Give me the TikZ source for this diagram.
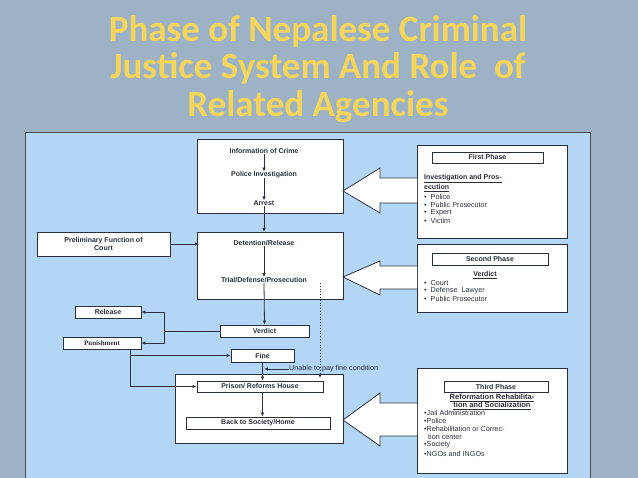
\documentclass[tikz,border=0pt]{standalone}
\usepackage{fontspec}
\setmainfont{Liberation Sans}
\newfontfamily\titlefont{Carlito}
\usetikzlibrary{arrows.meta}
\definecolor{slide}{HTML}{9DB2C4}
\definecolor{panel}{HTML}{B3D6F6}
\definecolor{ttl}{HTML}{F4D55C}
\definecolor{ink}{HTML}{2A2F3A}
\begin{document}
\begin{tikzpicture}[x=1pt,y=-1pt,
  box/.style={draw=ink,fill=white,line width=0.8pt},
  lbl/.style={font=\fontsize{7}{8}\selectfont\bfseries,text=ink,inner sep=0pt},
  itm/.style={font=\fontsize{7.2}{8}\selectfont,text=ink,inner sep=0pt,anchor=west},
  con/.style={draw=ink,line width=0.8pt,-{Latex[length=4pt,width=3.5pt]}},
  bigarrow/.style={draw=ink,fill=white,line width=0.8pt}]
\useasboundingbox (0,0) rectangle (638,478);
\fill[slide] (0,0) rectangle (638,478);
% title
\node[font=\fontsize{37}{37.5}\selectfont\titlefont\bfseries,text=ttl,align=center] (title) at (318,69)
 {Phase of Nepalese Criminal\\Justice System And Role \ of\\Related Agencies};
% panel
\draw[fill=panel,draw=gray!60!black,line width=1pt] (25,133) rectangle (590,480);
% left chain
\draw[box] (197,139) rectangle (343,213);
\node[lbl] (info) at (264,151) {Information of Crime};
\node[lbl] (police) at (264,175) {Police Investigation};
\node[lbl] (arrest) at (264,203) {Arrest};
\draw[box] (197,232) rectangle (343,299);
\node[lbl] (det) at (264,243) {Detention/Release};
\node[lbl] (trial) at (264,280) {Trial/Defense/Prosecution};
\node[box,lbl,minimum width=133pt,minimum height=24pt,align=center,inner sep=0pt] (prelim) at (103.5,244) {Preliminary Function of\\Court};
\node[box,lbl,minimum width=66pt,minimum height=12pt] (release) at (108,312) {Release};
\node[box,lbl,minimum width=89pt,minimum height=12pt] (verdict) at (264.5,331) {Verdict};
\node[box,minimum width=78pt,minimum height=12pt,inner sep=0pt,text=ink,font=\fontsize{7}{8}\selectfont] (punish) at (102,343) {\fontspec{Liberation Serif}\bfseries Punishment};
\node[box,lbl,minimum width=63pt,minimum height=13pt] (fine) at (262.5,355.5) {Fine};
\draw[box] (175,374) rectangle (343,443);
\node[box,lbl,minimum width=126pt,minimum height=11pt] (prison) at (260,386.5) {Prison/ Reforms House};
\node[box,lbl,minimum width=144pt,minimum height=12pt] (back) at (258,423) {Back to Society/Home};
\coordinate (boxtop) at (320,378);
\coordinate (dtop) at (320,283);
\node[itm] (unable) at (289,369) {Unable to pay fine condition};
% connectors
\draw[con] (info) -- (police);
\draw[con] (police) -- (arrest);
\draw[con] (arrest.south) -- (264,232);
\draw[con] (det) -- (trial);
\draw[con] (prelim.east) -- (199,244);
\draw[con] (trial.south) -- (verdict.north);
\draw[draw=ink,line width=0.8pt] (verdict.west) -- (164,331);
\draw[con] (164,312) |- (release.east);
\draw[con] (164,312) -- (164,343) -- (punish.east);
\draw[con] (130,349) |- (fine.west);
\draw[con] (130,355) |- (prison.west);
\draw[con] (fine.south) -- (prison.north -| fine.south);
\draw[con] (unable.west) -- (264,369);
\draw[draw=ink,line width=0.8pt,dotted,-{Latex[length=4pt,width=3.5pt]}] (dtop) -- (boxtop);
\draw[con] (prison.south -| fine.south) -- (back.north -| fine.south);
% right phases
\draw[box] (417,145) rectangle (567,238);
\node[box,lbl,minimum width=111pt,minimum height=11pt] (p1) at (487.5,157.5) {First Phase};
\node[lbl,anchor=west,align=left,font=\fontsize{7}{8}\selectfont\bfseries] (h1) at (424,183) {\underline{Investigation and Pros-}\\\underline{ecution}};
\node[itm] (a1) at (424,197) {•\ \ Police};
\node[itm] (a2) at (424,205) {•\ \ Public Prosecutor};
\node[itm] (a3) at (424,213) {•\ \ Expert};
\node[itm] (a4) at (424,221) {•\ \ Victim};
\draw[box] (417,244) rectangle (567,312);
\node[box,lbl,minimum width=116pt,minimum height=12pt] (p2) at (490,259) {Second Phase};
\node[lbl] (h2) at (485,275) {\underline{Verdict}};
\node[itm] (b1) at (424,283) {•\ \ Court};
\node[itm] (b2) at (424,291) {•\ \ Defense \ Lawyer};
\node[itm] (b3) at (424,299) {•\ \ Public Prosecutor};
\draw[box] (417,368) rectangle (567,473);
\node[box,lbl,minimum width=104pt,minimum height=11pt] (p3) at (496,386.5) {Third Phase};
\node[lbl,align=center,font=\fontsize{7.5}{8.5}\selectfont\bfseries] (h3) at (492,402) {\underline{Reformation Rehabilita-}\\\underline{tion and Socialization}};
\node[itm] (c1) at (424,413) {•Jail Administration};
\node[itm] (c2) at (424,421) {•Police};
\node[itm,align=left] (c3) at (424,433) {•Rehabilitation or Correc-\\\ \ tion center};
\node[itm] (c4) at (424,445) {•Society};
\node[itm] (c5) at (424,454) {•NGOs and INGOs};
% big arrows
\draw[bigarrow] (417,178) -- (380,178) -- (380,168) -- (343,191) -- (380,213) -- (380,203) -- (417,203);
\draw[bigarrow] (417,266) -- (380,266) -- (380,261) -- (343,277) -- (380,295) -- (380,289) -- (417,289);
\draw[bigarrow] (417,403) -- (380,403) -- (380,393) -- (343,420) -- (380,446) -- (380,436) -- (417,436);
\end{tikzpicture}
\end{document}
